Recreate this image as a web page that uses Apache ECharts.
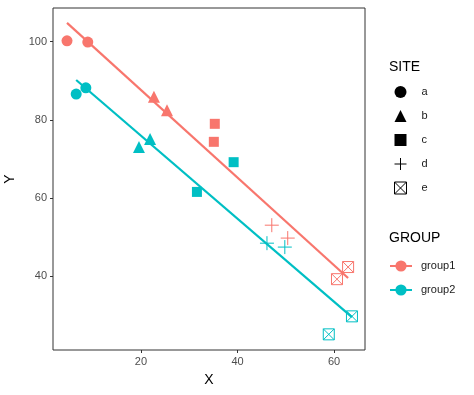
<!DOCTYPE html>
<html><head><meta charset="utf-8">
<script src="https://cdn.jsdelivr.net/npm/echarts@6/dist/echarts.min.js"></script>
<style>html,body{margin:0;padding:0;background:#fff}#c{width:474px;height:395px}</style>
</head><body><div id="c"></div>
<script>
const sites = ['a','b','c','d','e'];
const pointSite = ['a','a','b','b','c','c','d','d','e','e'];
const group1X = [4.7, 9.0, 22.7, 25.4, 35.3, 35.1, 47.1, 50.4, 60.6, 62.9];
const group1Y = [100.2, 99.9, 85.9, 82.5, 79.0, 74.4, 53.1, 49.8, 39.3, 42.4];
const group2X = [6.6, 8.6, 19.6, 21.9, 31.6, 39.2, 46.1, 49.8, 58.9, 63.7];
const group2Y = [86.6, 88.2, 73.1, 75.1, 61.6, 69.2, 48.5, 47.5, 25.2, 29.8];
const fit1X = [4.7, 62.9];
const fit1Y = [104.8, 39.6];
const fit2X = [6.6, 63.7];
const fit2Y = [90.2, 29.6];
const xTicks = [20, 40, 60];
const yTicks = [40, 60, 80, 100];
const groups = ['group1', 'group2'];

const groupColors = {group1: '#F8766D', group2: '#00BFC4'};
const PLUS = 'path://M5,0L5,10M0,5L10,5';
const BOXX = 'path://M0,0L10,0L10,10L0,10ZM0,0L10,10M10,0L0,10';
const siteSymbol = {a: 'circle', b: 'triangle', c: 'rect', d: PLUS, e: BOXX};
const siteSize = {a: 11, b: 12, c: 10, d: 14, e: 11};
const stroked = {d: true, e: true};

function pts(xs, ys, site) {
  const out = [];
  xs.forEach((x, i) => { if (pointSite[i] === site) out.push([x, ys[i]]); });
  return out;
}
const series = [];
const groupData = {group1: [group1X, group1Y], group2: [group2X, group2Y]};
groups.forEach(g => {
  sites.forEach(s => {
    const st = stroked[s];
    series.push({
      type: 'scatter', name: s,
      data: pts(groupData[g][0], groupData[g][1], s),
      symbol: siteSymbol[s], symbolSize: siteSize[s],
      itemStyle: st ? {color: 'transparent', borderColor: groupColors[g], borderWidth: 1, opacity: 1}
                    : {color: groupColors[g], opacity: 1},
      z: 2, emphasis: {disabled: true}
    });
  });
});
const fits = {group1: [fit1X, fit1Y], group2: [fit2X, fit2Y]};
groups.forEach(g => {
  series.push({
    type: 'line', name: g,
    data: fits[g][0].map((x, i) => [x, fits[g][1][i]]),
    showSymbol: false, symbol: 'circle', symbolSize: 11,
    lineStyle: {color: groupColors[g], width: 2.2},
    itemStyle: {color: groupColors[g]},
    z: 3, emphasis: {disabled: true}
  });
});

const chart = echarts.init(document.getElementById('c'), null, {renderer: 'canvas'});
const txt = {fontFamily: 'Liberation Sans', fontSize: 11, color: '#1a1a1a', lineHeight: 14};
const ttl = {fontFamily: 'Liberation Sans', fontSize: 14, fontWeight: 'normal', color: '#000'};
chart.setOption({
  animation: false,
  backgroundColor: '#fff',
  title: [
    {text: 'SITE', left: 384, top: 55, textStyle: ttl},
    {text: 'GROUP', left: 384, top: 226, textStyle: ttl}
  ],
  grid: {left: 53, right: 109, top: 8, bottom: 45, outerBoundsMode: 'none', containLabel: false,
         show: true, borderColor: '#333', borderWidth: 1, backgroundColor: '#fff'},
  xAxis: {
    type: 'value', min: 1.8, max: 66.4,
    name: 'X', nameLocation: 'middle', nameGap: 23,
    nameTextStyle: {fontFamily: 'Liberation Sans', fontSize: 14, color: '#000'},
    axisLine: {show: false}, splitLine: {show: false},
    axisTick: {show: true, length: 3, customValues: xTicks, lineStyle: {color: '#333'}},
    axisLabel: {customValues: xTicks, margin: 6, fontFamily: 'Liberation Sans', fontSize: 11, color: '#4d4d4d'}
  },
  yAxis: {
    type: 'value', min: 21.2, max: 108.6,
    name: 'Y', nameLocation: 'middle', nameGap: 36,
    nameTextStyle: {fontFamily: 'Liberation Sans', fontSize: 14, color: '#000'},
    axisLine: {show: false}, splitLine: {show: false},
    axisTick: {show: true, length: 3, customValues: yTicks, lineStyle: {color: '#333'}},
    axisLabel: {customValues: yTicks, margin: 6, fontFamily: 'Liberation Sans', fontSize: 11, color: '#4d4d4d'}
  },
  legend: [
    {
      orient: 'vertical', left: 394, top: 85, padding: 0, itemGap: 10, itemWidth: 12, itemHeight: 12,
      selectedMode: false, symbolKeepAspect: true,
      data: sites.map(s => stroked[s]
        ? {name: s, icon: siteSymbol[s], itemStyle: {color: 'transparent', borderColor: '#000', borderWidth: 1}}
        : {name: s, icon: siteSymbol[s], itemStyle: {color: '#000', borderWidth: 0}}),
      textStyle: Object.assign({padding: [0, 0, 0, 10]}, txt)
    },
    {
      orient: 'vertical', left: 389, top: 259, padding: 0, itemGap: 10, itemWidth: 22, itemHeight: 14,
      selectedMode: false,
      data: groups,
      textStyle: Object.assign({padding: [0, 0, 0, 4]}, txt)
    }
  ],
  series: series
});
</script></body></html>
